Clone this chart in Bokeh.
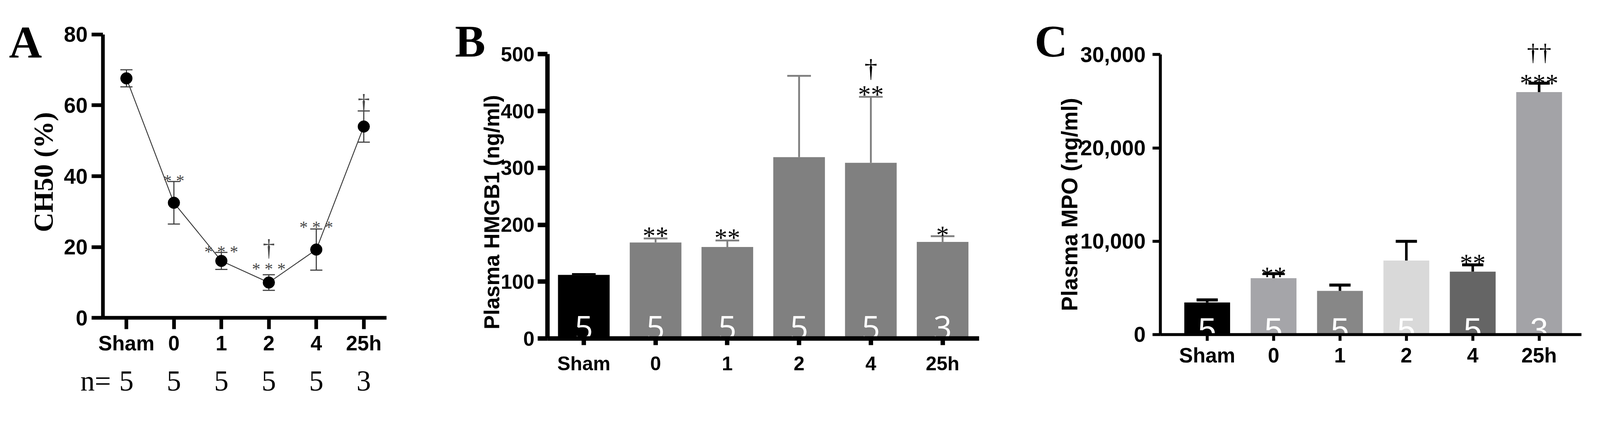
import math
from bokeh.plotting import figure
from bokeh.models import Range1d, FixedTicker, LinearAxis
from bokeh.embed import file_html
from bokeh.resources import INLINE
from bokeh.core.properties import value

# ---------------- data ----------------
categories = ["Sham", "0", "1", "2", "4", "25h"]
n_per_group = [5, 5, 5, 5, 5, 3]

ch50_mean = [67.6, 32.5, 16.1, 10.0, 19.3, 54.0]
ch50_sem = [2.4, 6.0, 2.4, 2.2, 5.8, 4.4]
ch50_stars = ["", "* *", "* * *", "* * *", "* * *", ""]
ch50_dagger = ["", "", "", "\u2020", "", "\u2020"]
ch50_ticks = [0, 20, 40, 60, 80]

hmgb1_mean = [112, 169, 161, 319, 309, 170]
hmgb1_sem = [1.5, 7, 11.5, 143, 116, 10]
hmgb1_stars = ["", "**", "**", "", "**", "*"]
hmgb1_dagger = ["", "", "", "", "\u2020", ""]
hmgb1_ticks = [0, 100, 200, 300, 400, 500]

mpo_mean = [3430, 6040, 4680, 7930, 6740, 25980]
mpo_sem = [280, 490, 620, 2060, 730, 950]
mpo_stars = ["", "**", "", "", "**", "***"]
mpo_dagger = ["", "", "", "", "", "\u2020\u2020"]
mpo_ticks = [0, 10000, 20000, 30000]
mpo_tick_labels = ["0", "10,000", "20,000", "30,000"]

# ---------------- geometry ----------------
# layout is designed in a 4331 x 1079 reference space and drawn at scale S
REF_W, REF_H = 4331, 1079
W = 4080
S = W / REF_W
H = round(REF_H * S)
SERIF = "Liberation Serif"
SANS = "Liberation Sans"


def px(v):
    return v * S


def fpx(v):
    return f"{v * S:.1f}px"


def panel_map(c0, step, y0px, ytop_px, ytop_val):
    k = ytop_val / (y0px - ytop_px)
    xr = ((0 - c0) / step, (REF_W - c0) / step)
    yr = ((y0px - REF_H) * k, (y0px - 0) * k)

    def xd(X):
        return (X - c0) / step

    def yd(Y):
        return (y0px - Y) * k

    return xr, yr, xd, yd, k


xrA, yrA, xdA, ydA, kA = panel_map(343, 129, 865, 93, 80)
xrB, yrB, xdB, ydB, kB = panel_map(1586, 195, 921, 147, 500)
xrC, yrC, xdC, ydC, kC = panel_map(3280, 180.4, 910, 148, 30000)

p = figure(width=W, height=H, x_range=Range1d(*xrA), y_range=Range1d(*yrA),
           extra_x_ranges={"xB": Range1d(*xrB), "xC": Range1d(*xrC)},
           extra_y_ranges={"yB": Range1d(*yrB), "yC": Range1d(*yrC)},
           x_axis_location=None, y_axis_location=None,
           output_backend="svg", toolbar_location=None, min_border=0)
p.outline_line_color = None
p.background_fill_color = "white"
p.border_fill_color = "white"
p.title.visible = False
for g in p.xgrid + p.ygrid:
    g.visible = False

xs = list(range(len(categories)))


def add_axes(xn, yn, xd, y_loc_px, x_end_px, ymax, lw, xt_out, yt_out, xfs, yfs,
             xstand, ystand, yticks, ylabels=None):
    ya = LinearAxis(x_range_name=xn, y_range_name=yn, fixed_location=xd(y_loc_px),
                    bounds=(0, ymax), ticker=FixedTicker(ticks=yticks))
    xa = LinearAxis(x_range_name=xn, y_range_name=yn, fixed_location=0,
                    bounds=(xd(y_loc_px), xd(x_end_px)), ticker=FixedTicker(ticks=xs))
    xa.major_label_overrides = {i: c for i, c in enumerate(categories)}
    if ylabels is not None:
        ya.major_label_overrides = {t: s for t, s in zip(yticks, ylabels)}
    for ax in (xa, ya):
        ax.axis_line_width = px(lw)
        ax.axis_line_color = "black"
        ax.major_tick_line_width = px(lw)
        ax.major_tick_line_color = "black"
        ax.major_tick_in = 0
        ax.minor_tick_line_color = None
        ax.major_label_text_font = SANS
        ax.major_label_text_font_style = "bold"
        ax.major_label_text_color = "black"
    xa.major_tick_out = round(px(xt_out))
    ya.major_tick_out = round(px(yt_out))
    xa.major_label_text_font_size = fpx(xfs)
    ya.major_label_text_font_size = fpx(yfs)
    xa.major_label_standoff = round(px(xstand))
    ya.major_label_standoff = round(px(ystand))
    p.add_layout(ya, "left")
    p.add_layout(xa, "below")


def texts(xn, yn, x, y, t, font, size, color="black", align="center", style="normal",
          angle=0.0):
    p.text(x=x, y=y, text=t, x_range_name=xn, y_range_name=yn,
           text_font=value(font), text_font_size=fpx(size), text_font_style=style,
           text_color=color, text_align=align, text_baseline="alphabetic", angle=angle)


def marks(xn, yn, tops, labels, gaps, k, fs, extra, color):
    mx, my, mt = [], [], []
    for i in xs:
        if labels[i]:
            mx.append(i)
            my.append(tops[i] + (gaps[i] + extra * fs) * k)
            mt.append(labels[i])
    texts(xn, yn, mx, my, mt, SERIF, fs, color=color)


# ================= Panel A: CH50 =================
add_axes("default", "default", xdA, 279, 1050, 80, 10, 31, 31, 56, 58, 6, 11, ch50_ticks)
loA = [m - s for m, s in zip(ch50_mean, ch50_sem)]
hiA = [m + s for m, s in zip(ch50_mean, ch50_sem)]
capA = 0.128
errc = "#3c3c3c"
p.line(xs, ch50_mean, line_color="#3a3a3a", line_width=px(2.5))
p.segment(x0=xs, y0=loA, x1=xs, y1=hiA, line_color=errc, line_width=px(3))
p.segment(x0=[x - capA for x in xs], y0=hiA, x1=[x + capA for x in xs], y1=hiA,
          line_color=errc, line_width=px(3))
p.segment(x0=[x - capA for x in xs], y0=loA, x1=[x + capA for x in xs], y1=loA,
          line_color=errc, line_width=px(3))
p.scatter(xs, ch50_mean, size=px(32), color="black")

marks("default", "default", hiA, ch50_stars, [0, 24, 24, 38, 27, 0], kA, 46, -0.47, "#4a4a4a")
marks("default", "default", hiA, ch50_dagger, [0, 0, 0, 63, 0, 13], kA, 66, 0.153, "#4a4a4a")

texts("default", "default", xs, [ydA(1037)] * 6, [str(n) for n in n_per_group], SERIF, 78)
texts("default", "default", [xdA(218)], [ydA(1037)], ["n="], SERIF, 78, align="left")
texts("default", "default", [xdA(24)], [ydA(114)], ["A"], SERIF, 124, align="left", style="bold")
texts("default", "default", [xdA(118)], [ydA(468)], ["CH50 (%)"], SERIF, 74, style="bold",
      angle=math.pi / 2)

# ================= Panel B: HMGB1 =================
add_axes("xB", "yB", xdB, 1487, 2660, 500, 12, 18, 27, 53, 55, 20, 8, hmgb1_ticks)
colB = ["black"] + ["#808080"] * 5
p.vbar(x=xs, top=hmgb1_mean, width=0.72, fill_color=colB, line_color=None,
       x_range_name="xB", y_range_name="yB")
hiB = [m + s for m, s in zip(hmgb1_mean, hmgb1_sem)]
capB = 0.165
p.segment(x0=xs, y0=hmgb1_mean, x1=xs, y1=hiB, line_color=colB, line_width=px(5),
          x_range_name="xB", y_range_name="yB")
p.segment(x0=[x - capB for x in xs], y0=hiB, x1=[x + capB for x in xs], y1=hiB,
          line_color=colB, line_width=px(5), x_range_name="xB", y_range_name="yB")
texts("xB", "yB", xs, [ydB(891)] * 6, [str(n) for n in n_per_group], "Open Sans", 88,
      color="white")
marks("xB", "yB", hiB, hmgb1_stars, [0, 41, 41, 0, 40, 37], kB, 70, -0.47, "black")
marks("xB", "yB", hiB, hmgb1_dagger, [0, 0, 0, 0, 68, 0], kB, 70, 0.153, "black")
texts("xB", "yB", [xdB(1236)], [ydB(112)], ["B"], SERIF, 124, align="left", style="bold")
texts("xB", "yB", [xdB(1336)], [ydB(577)], ["Plasma HMGB1 (ng/ml)"], SANS, 58, style="bold",
      angle=math.pi / 2)

# ================= Panel C: MPO =================
add_axes("xC", "yC", xdC, 3153, 4297, 30000, 8, 17, 21, 56, 58, 9, 19, mpo_ticks,
         mpo_tick_labels)
colC = ["black", "#a5a5a9", "#878787", "#d9d9d9", "#656565", "#a3a3a7"]
p.vbar(x=xs, top=mpo_mean, width=0.69, fill_color=colC, line_color=None,
       x_range_name="xC", y_range_name="yC")
hiC = [m + s for m, s in zip(mpo_mean, mpo_sem)]
capC = 0.16
p.segment(x0=xs, y0=mpo_mean, x1=xs, y1=hiC, line_color="black", line_width=px(7),
          x_range_name="xC", y_range_name="yC")
p.segment(x0=[x - capC for x in xs], y0=hiC, x1=[x + capC for x in xs], y1=hiC,
          line_color="black", line_width=px(8), x_range_name="xC", y_range_name="yC")
texts("xC", "yC", xs, [ydC(896)] * 6, [str(n) for n in n_per_group], SANS, 88, color="white")
marks("xC", "yC", hiC, mpo_stars, [0, 27, 0, 0, 38, 34], kC, 70, -0.47, "black")
marks("xC", "yC", hiC, mpo_dagger, [0, 0, 0, 0, 0, 74], kC, 66, 0.153, "black")
texts("xC", "yC", [xdC(2811)], [ydC(112)], ["C"], SERIF, 124, align="left", style="bold")
texts("xC", "yC", [xdC(2906)], [ydC(556)], ["Plasma MPO (ng/ml)"], SANS, 60, style="bold",
      angle=math.pi / 2)

open("out.html", "w").write(file_html(p, INLINE))
